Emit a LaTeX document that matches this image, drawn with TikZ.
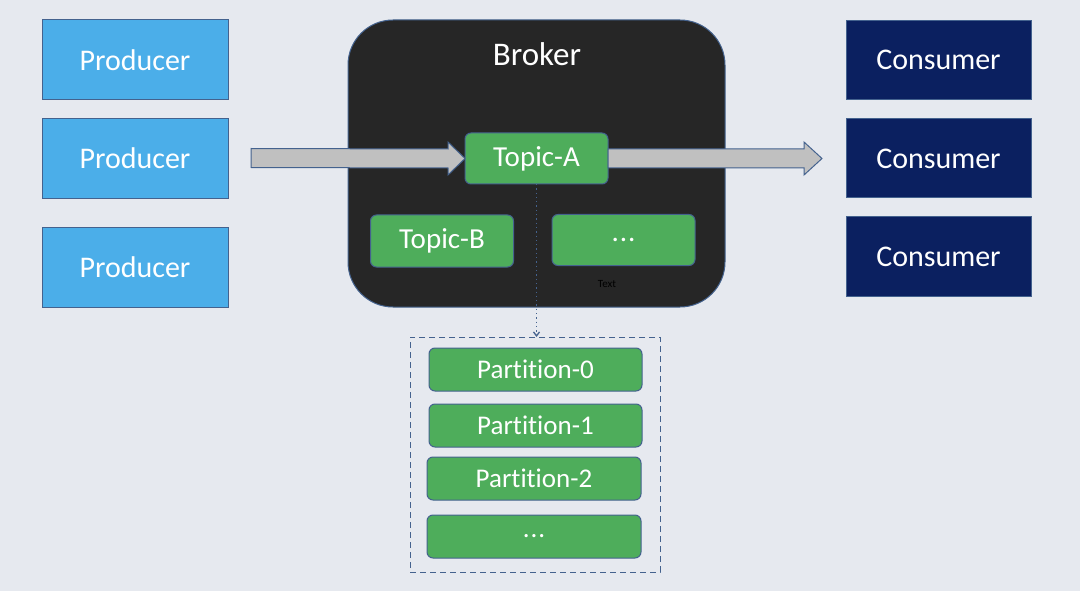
\documentclass[tikz,border=0pt]{standalone}
\usepackage{fontspec}
\setmainfont{Carlito}[Ligatures=NoCommon]
\usetikzlibrary{calc,arrows.meta}
\definecolor{bg}{HTML}{E6E9EF}
\definecolor{prodfill}{HTML}{4BAEE9}
\definecolor{consfill}{HTML}{0B2060}
\definecolor{edge}{HTML}{44628E}
\definecolor{greenfill}{HTML}{4EAD5B}
\definecolor{brokerfill}{HTML}{262626}
\definecolor{arrowfill}{HTML}{C0C0C0}
\tikzset{
  every node/.style={inner sep=0pt, outer sep=0pt},
  prodbox/.style={draw=edge, line width=1pt, fill=prodfill, text=white, minimum width=186pt, minimum height=80pt, font=\fontsize{30}{36}\selectfont},
  consbox/.style={draw=edge, line width=1pt, fill=consfill, text=white, minimum width=185pt, minimum height=79pt, font=\fontsize{30}{36}\selectfont},
  topicbox/.style={draw=edge, line width=1pt, fill=greenfill, text=white, rounded corners=6pt, minimum width=143pt, minimum height=51pt, font=\fontsize{29}{34}\selectfont},
  partbox/.style={draw=edge, line width=1pt, fill=greenfill, text=white, rounded corners=6pt, minimum width=213pt, minimum height=43pt, font=\fontsize{27}{32}\selectfont},
  bigarrow/.style={draw=edge, line width=1pt, fill=arrowfill},
}
\begin{document}
\begin{tikzpicture}[x=1pt,y=-1pt]
\fill[bg] (0,0) rectangle (1080,591);
\useasboundingbox (0,0) rectangle (1080,591);

% producers
\node[prodbox] (p1) at (135,60) {Producer};
\node[prodbox] (p2) at (135,158.5) {Producer};
\node[prodbox] (p3) at (135,267.5) {Producer};

% consumers
\node[consbox] (c1) at (938.5,60) {Consumer};
\node[consbox] (c2) at (938.5,158.5) {Consumer};
\node[consbox] (c3) at (938.5,256.5) {Consumer};

% broker
\node[draw=edge, line width=1pt, fill=brokerfill, rounded corners=45pt, minimum width=377pt, minimum height=287pt] (broker) at (536.5,163.5) {};
\node[text=white, font=\fontsize{33}{38}\selectfont] (brokerlabel) at (537,54) {Broker};

% topics
\node[topicbox] (ta) at (536.5,158.5) {Topic-A};
\node[topicbox, minimum height=52pt] (tb) at (442,241) {Topic-B};
\node[topicbox] (tdots) at (623.5,240) {.\kern1pt.\kern1pt.};
\node[font=\fontsize{11}{13}\selectfont, text=black] (txt) at (607,284) {Text};

% partitions
\node[draw=edge, line width=1pt, dash pattern=on 6pt off 4pt, minimum width=250pt, minimum height=235pt] (pbox) at (535,454.5) {};
\node[partbox] (p0) at (535.5,369.5) {Partition-0};
\node[partbox] (pp1) at (535.5,425.5) {Partition-1};
\node[partbox, minimum width=214pt] (pp2) at (534,478.5) {Partition-2};
\node[partbox, minimum width=214pt] (pdots) at (534,536.5) {.\kern1pt.\kern1pt.};

% dotted connector
\draw[edge, line width=1.3pt, dash pattern=on 1.3pt off 3pt, -{Straight Barb[length=4pt,width=6pt]}] (ta.south) -- (ta.south |- pbox.north);

% input arrow
\coordinate (inStart) at (251,158);
\draw[bigarrow] (inStart) ++(0,-9.5) -- ($(ta.west)+(-17,-9.5)$) -- ($(ta.west)+(-17,-16.5)$) -- (ta.west) -- ($(ta.west)+(-17,16.5)$) -- ($(ta.west)+(-17,9.5)$) -- ($(inStart)+(0,9.5)$) -- cycle;

% output arrow
\coordinate (outEnd) at (822,158.5);
\draw[bigarrow] ($(ta.east)+(0,-9.5)$) -- ($(outEnd)+(-18,-9.5)$) -- ($(outEnd)+(-18,-16.5)$) -- (outEnd) -- ($(outEnd)+(-18,16.5)$) -- ($(outEnd)+(-18,9.5)$) -- ($(ta.east)+(0,9.5)$) -- cycle;
\end{tikzpicture}
\end{document}
